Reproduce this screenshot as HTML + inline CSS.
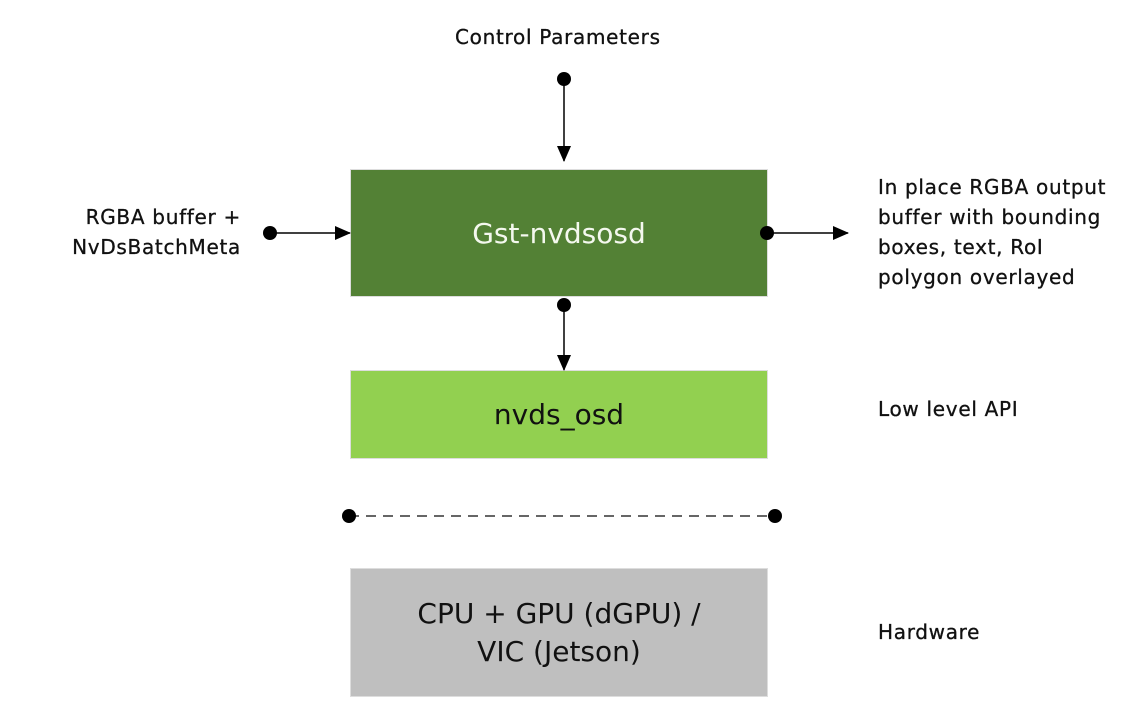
<!DOCTYPE html>
<html><head><style>
body{margin:0;background:#fff;width:1129px;height:717px;overflow:hidden;position:relative;font-family:"DejaVu Sans","Liberation Sans",sans-serif}
.t{position:absolute;font-size:20px;color:#111;line-height:30px;letter-spacing:0.7px;white-space:nowrap;-webkit-text-stroke:0.3px #111}
.b{position:absolute;display:flex;align-items:center;justify-content:center;text-align:center;font-size:28px;box-sizing:border-box;border:1px solid #ddd}
</style></head><body>
<div class="b" style="left:350px;top:169px;width:418px;height:128px;background:#538135;color:#f4f8ee">Gst-nvdsosd</div>
<div class="b" style="left:350px;top:370px;width:418px;height:89px;background:#92d050;color:#111">nvds_osd</div>
<div class="b" style="left:350px;top:568px;width:418px;height:129px;background:#bfbfbf;color:#111;line-height:38px">CPU + GPU (dGPU) /<br>VIC (Jetson)</div>
<svg width="1129" height="717" style="position:absolute;left:0;top:0">
<defs><marker id="a" markerWidth="16" markerHeight="14" refX="15" refY="7" orient="auto" markerUnits="userSpaceOnUse"><path d="M0,0 L16,7 L0,14 z" fill="#000"/></marker></defs>
<g stroke="#000" stroke-width="1.5" fill="none">
<line x1="564" y1="79" x2="564" y2="161" marker-end="url(#a)"/>
<line x1="270" y1="233" x2="350" y2="233" marker-end="url(#a)"/>
<line x1="767" y1="233" x2="848" y2="233" marker-end="url(#a)"/>
<line x1="564" y1="305" x2="564" y2="370" marker-end="url(#a)"/>
</g>
<line x1="349" y1="516" x2="775" y2="516" stroke="#666" stroke-width="2" stroke-dasharray="10,7"/>
<g fill="#000"><circle cx="564" cy="79" r="7"/><circle cx="270" cy="233" r="7"/><circle cx="767" cy="233" r="7"/><circle cx="564" cy="305" r="7"/><circle cx="349" cy="516" r="7"/><circle cx="775" cy="516" r="7"/></g>
</svg>
<div class="t" style="left:455px;top:22px">Control Parameters</div>
<div class="t" style="left:20px;top:202px;width:221px;text-align:right">RGBA buffer +<br>NvDsBatchMeta</div>
<div class="t" style="left:878px;top:172px">In place RGBA output<br>buffer with bounding<br>boxes, text, RoI<br>polygon overlayed</div>
<div class="t" style="left:878px;top:394px">Low level API</div>
<div class="t" style="left:878px;top:617px">Hardware</div>
</body></html>
